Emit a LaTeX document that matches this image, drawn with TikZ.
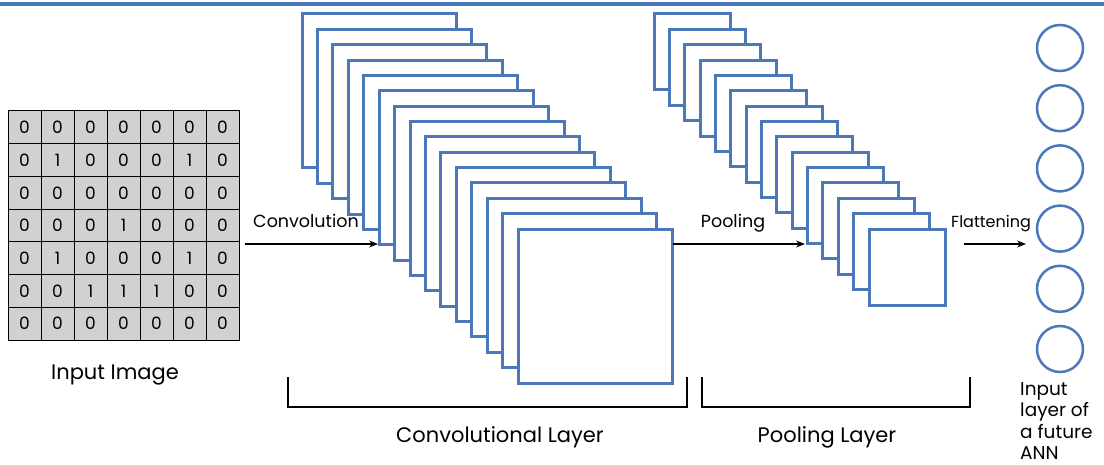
\documentclass[tikz,border=0pt]{standalone}
\usepackage{fontspec}
\setmainfont{Poppins}
\usetikzlibrary{arrows.meta}
\definecolor{fb}{HTML}{4A78BA}
\begin{document}
\begin{tikzpicture}[x=1pt,y=-1pt,
  fmap/.style={draw=fb,line width=3pt,fill=white},
  cell/.style={draw=black,line width=1pt,fill=black!18,minimum size=33pt,inner sep=0pt,font=\fontsize{17}{17}\selectfont},
  arr/.style={-{Stealth[length=9pt,width=7pt]},line width=1.2pt},
  lbl/.style={font=\fontsize{17.5}{20}\selectfont,inner sep=0pt},
  big/.style={font=\fontsize{21}{24}\selectfont,inner sep=0pt},
  brk/.style={line width=1.4pt},
  neuron/.style={circle,draw=fb,line width=2.5pt,minimum size=46pt,inner sep=0pt}]
\useasboundingbox (0,0) rectangle (1104,465);
\draw[fb,line width=3.5pt] (0,4) -- (1104,4);
% grid
\foreach \r/\vals in {0/{0,0,0,0,0,0,0},1/{0,1,0,0,0,1,0},2/{0,0,0,0,0,0,0},3/{0,0,0,1,0,0,0},4/{0,1,0,0,0,1,0},5/{0,0,1,1,1,0,0},6/{0,0,0,0,0,0,0}}{
  \foreach \v [count=\c from 0] in \vals {
    \node[cell] (g\r\c) at ({8+16.5+33*\c},{111+16.5+32.7*\r}) {\v};
  }
}
\node[big] (inimg) at (115,375) {Input Image};
% conv layer
\foreach \i in {0,...,14}{
  \draw[fmap] ({302+15.43*\i},{14+15.36*\i}) rectangle ++(154,154);
}
\coordinate (cin) at (378,244);
% pool layer
\foreach \i in {0,...,14}{
  \draw[fmap] ({654+15.36*\i},{14+15.36*\i}) rectangle ++(76,76);
}
\coordinate (gout) at (245,244);
\coordinate (cout) at (673,244);
\coordinate (pin) at (805,244);
\coordinate (pout) at (964,244);
\draw[arr] (gout) -- (cin);
\node[lbl,anchor=base] (tconv) at (306,228) {Convolution};
\draw[arr] (cout) -- (pin);
\node[lbl,anchor=base] (tpool) at (733,228) {Pooling};
% neurons
\foreach \k in {0,...,5}{
  \node[neuron] (n\k) at (1060,{48+60.2*\k}) {};
}
\coordinate (fin) at (1026,244);
\draw[arr] (pout) -- (fin);
\node[lbl,anchor=base,font=\fontsize{16}{18}\selectfont] (tflat) at (991,228) {Flattening};
% brackets
\draw[brk] (288,377) -- (288,407) -- (687,407) -- (687,377);
\draw[brk] (702,377) -- (702,407) -- (970,407) -- (970,377);
\node[big] (tcl) at (500,437) {Convolutional Layer};
\node[big] (tpl) at (827,437) {Pooling Layer};
\node[lbl,anchor=north west,align=left,font=\fontsize{18.5}{21.5}\selectfont] (tann) at (1020,382) {Input\\layer of\\a future\\ANN};
\end{tikzpicture}
\end{document}
